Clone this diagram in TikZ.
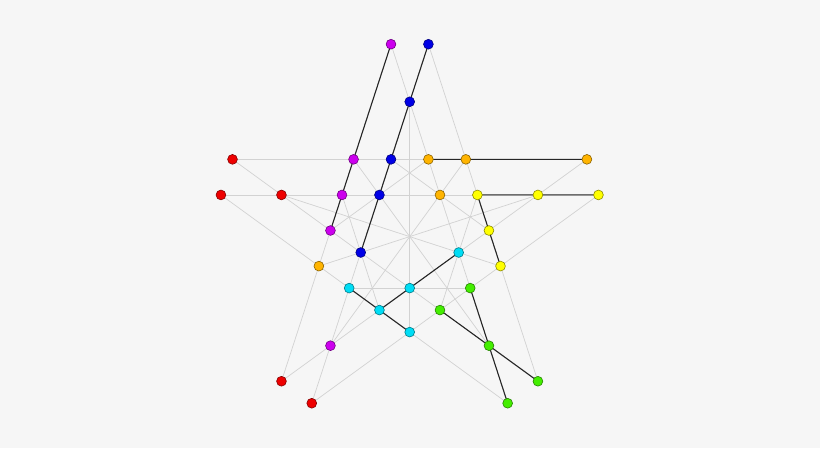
\documentclass[tikz,border=0pt]{standalone}
\usetikzlibrary{backgrounds}
\definecolor{bgc}{HTML}{F6F6F6}
\definecolor{gline}{HTML}{D2D2D2}
\definecolor{cmag}{HTML}{CC00EE}
\definecolor{cblu}{HTML}{0000E6}
\definecolor{cred}{HTML}{EE0000}
\definecolor{cora}{HTML}{FFB400}
\definecolor{cyel}{HTML}{FFFF00}
\definecolor{ccya}{HTML}{00DDF5}
\definecolor{cgre}{HTML}{44EE00}
\newcommand\mypt[4]{\path (C) ++(#2:#3pt) node[ptnode,fill=#4,draw=#4!55!black] (#1) {};}
\begin{document}
\begin{tikzpicture}[x=1pt,y=1pt,
  ptnode/.style={circle,inner sep=0pt,minimum size=9.8pt,line width=0.6pt},
  gl/.style={draw=gline,line width=0.7pt},
  bl/.style={draw=black!85,line width=1.1pt}]
\useasboundingbox (0,0) rectangle (820,448);
\coordinate (C) at (409.7,211.4);
% magenta
\mypt{m1}{95.554}{193.31}{cmag}
\mypt{m2}{126}{95.49}{cmag}
\mypt{m3}{148.39}{79.48}{cmag}
\mypt{m4}{175.61}{79.48}{cmag}
\mypt{m5}{234}{134.83}{cmag}
% blue
\mypt{b1}{84.446}{193.31}{cblu}
\mypt{b2}{90}{134.83}{cblu}
\mypt{b3}{103.61}{79.48}{cblu}
\mypt{b4}{126}{51.5}{cblu}
\mypt{b5}{198}{51.5}{cblu}
% red
\mypt{r1}{156.446}{193.31}{cred}
\mypt{r2}{167.554}{193.31}{cred}
\mypt{r3}{162}{134.83}{cred}
\mypt{r4}{228.446}{193.31}{cred}
\mypt{r5}{239.554}{193.31}{cred}
% orange
\mypt{o1}{76.39}{79.48}{cora}
\mypt{o2}{54}{95.49}{cora}
\mypt{o3}{23.554}{193.31}{cora}
\mypt{o4}{54}{51.5}{cora}
\mypt{o5}{198}{95.49}{cora}
% yellow
\mypt{y1}{31.61}{79.48}{cyel}
\mypt{y2}{18}{134.83}{cyel}
\mypt{y3}{12.446}{193.31}{cyel}
\mypt{y4}{4.39}{79.48}{cyel}
\mypt{y5}{-18}{95.49}{cyel}
% cyan
\mypt{c1}{-18}{51.5}{ccya}
\mypt{c2}{220.39}{79.48}{ccya}
\mypt{c3}{-90}{51.5}{ccya}
\mypt{c4}{247.61}{79.48}{ccya}
\mypt{c5}{-90}{95.49}{ccya}
% green
\mypt{g1}{319.61}{79.48}{cgre}
\mypt{g2}{292.39}{79.48}{cgre}
\mypt{g3}{306}{134.83}{cgre}
\mypt{g4}{311.554}{193.31}{cgre}
\mypt{g5}{300.446}{193.31}{cgre}
\begin{pgfonlayer}{background}
\fill[bgc] (0,0) rectangle (820,448);
% family 1
\draw[gl] (r2.center) -- (y3.center);
\draw[gl] (b1.center) -- (r5.center);
\draw[gl] (r1.center) -- (g4.center);
\draw[gl] (r4.center) -- (o3.center);
\draw[gl] (m1.center) -- (g5.center);
% family 2
\draw[gl] (r1.center) -- (o3.center);
\draw[gl] (m1.center) -- (r4.center);
\draw[gl] (r2.center) -- (g5.center);
\draw[gl] (r5.center) -- (y3.center);
\draw[gl] (b1.center) -- (g4.center);
% family 3
\draw[gl] (b3.center) -- (y4.center);
\draw[gl] (o1.center) -- (m4.center);
\draw[gl] (m3.center) -- (c4.center);
\draw[gl] (c2.center) -- (g1.center);
\draw[gl] (y1.center) -- (g2.center);
% axes
\draw[gl] (b2.center) -- (c5.center);
\draw[gl] (r3.center) -- (y5.center);
\draw[gl] (m5.center) -- (o2.center);
\draw[gl] (g3.center) -- (m2.center);
\draw[gl] (y2.center) -- (o5.center);
% black
\draw[bl] (m1.center) -- (m4.center);
\draw[bl] (b1.center) -- (b5.center);
\draw[bl] (o1.center) -- (o3.center);
\draw[bl] (y1.center) -- (y3.center);
\draw[bl] (y1.center) -- (y5.center);
\draw[bl] (c1.center) -- (c4.center);
\draw[bl] (c2.center) -- (c5.center);
\draw[bl] (g1.center) -- (g5.center);
\draw[bl] (g2.center) -- (g4.center);
\end{pgfonlayer}
\end{tikzpicture}
\end{document}
